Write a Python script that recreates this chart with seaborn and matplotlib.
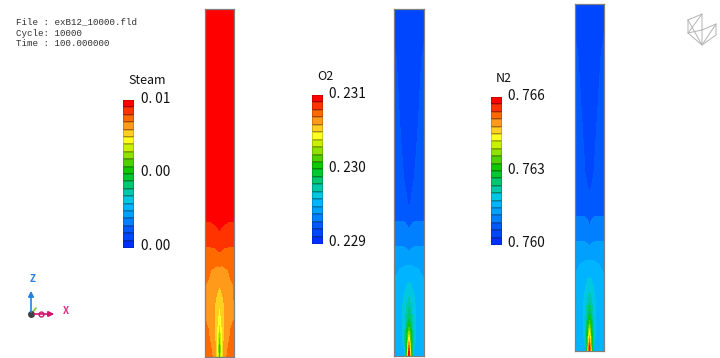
import numpy as np
import matplotlib
matplotlib.use('Agg')
import matplotlib.pyplot as plt
from matplotlib.colors import ListedColormap
import seaborn as sns

# colores de la escala, de abajo hacia arriba
level_colors = ['#0030ff', '#0046ff', '#0058ff', '#0080ff', '#00a0ff',
                '#00b4ff', '#00c8e0', '#00c8a8', '#00c870', '#00c830',
                '#10c800', '#50d000', '#90e000', '#c8f000', '#ffff20',
                '#ffd020', '#ff9a1a', '#ff6a00', '#ff3300', '#ff0000']

# alturas de las filas y posiciones desde el eje hasta la pared (mitad)
rows_y = [9, 60, 120, 180, 205, 222, 231, 244, 247, 252, 265, 270, 285, 300,
          320, 335, 345, 352, 357]
half_x = [0, 0.12, 0.3, 0.55, 0.8, 1]

steam_field = [
    [19, 19, 19, 19, 19, 19],
    [19, 19, 19, 19, 19, 19],
    [19, 19, 19, 19, 19, 19],
    [19, 19, 19, 19, 19, 19],
    [19, 19, 19, 19, 19, 19],
    [19, 18.9, 18.7, 18.5, 18.5, 18.5],
    [18.5, 18.2, 18, 18, 18, 18],
    [18, 18, 17.8, 17.7, 17.6, 17.6],
    [18, 17.9, 17.6, 17.5, 17.5, 17.5],
    [17.5, 17.3, 17, 17, 17, 17],
    [16.6, 16.55, 16.6, 16.8, 17, 17],
    [16.2, 16.2, 16.3, 16.45, 16.7, 17],
    [15.6, 15.7, 15.95, 16.2, 16.4, 16.52],
    [14.8, 15.1, 15.5, 16, 16.3, 16.5],
    [13.5, 14.4, 15.3, 16, 16.4, 16.5],
    [11, 13.5, 15.4, 16.2, 16.6, 16.6],
    [9, 13, 15.5, 16.4, 16.7, 16.7],
    [8, 13, 15.7, 16.5, 16.8, 16.8],
    [7, 14, 16, 16.6, 16.8, 16.8],
]

o2_field = [
    [1, 1, 1, 1, 1, 1],
    [1, 1, 1, 1.2, 1.45, 1.7],
    [1, 1, 1.1, 1.4, 1.7, 1.9],
    [1.1, 1.2, 1.45, 1.7, 1.9, 2],
    [1.45, 1.55, 1.8, 2, 2, 2],
    [2.2, 2.3, 2.45, 2.5, 2.5, 2.5],
    [2.5, 2.7, 3, 3, 3, 3],
    [3, 3, 3.2, 3.35, 3.4, 3.4],
    [3, 3.1, 3.4, 3.5, 3.5, 3.5],
    [3.5, 3.7, 4, 4, 4, 4],
    [4.4, 4.45, 4.4, 4.2, 4, 4],
    [4.7, 4.7, 4.65, 4.55, 4.4, 4.3],
    [5.6, 5.5, 5.2, 4.9, 4.7, 4.6],
    [6.6, 6.2, 5.7, 5.1, 4.8, 4.7],
    [8.5, 7.5, 6, 5.2, 4.8, 4.7],
    [12, 9.5, 6, 5.1, 4.7, 4.7],
    [16, 10, 5.8, 5, 4.7, 4.7],
    [18.5, 10, 5.5, 4.9, 4.7, 4.7],
    [19.5, 12, 5.2, 4.8, 4.7, 4.7],
]

n2_field = [
    [1, 1, 1, 1, 1, 1],
    [1, 1, 1, 1.25, 1.5, 1.75],
    [1.1, 1.1, 1.2, 1.5, 1.75, 1.9],
    [1.25, 1.3, 1.5, 1.8, 1.95, 2],
    [1.6, 1.7, 1.9, 2, 2, 2],
    [2.2, 2.3, 2.45, 2.5, 2.5, 2.5],
    [2.5, 2.7, 3, 3, 3, 3],
    [3, 3, 3.2, 3.35, 3.4, 3.4],
    [3, 3.1, 3.4, 3.5, 3.5, 3.5],
    [3.5, 3.7, 4, 4, 4, 4],
    [4.4, 4.45, 4.4, 4.2, 4, 4],
    [4.7, 4.7, 4.65, 4.55, 4.4, 4.3],
    [5.6, 5.5, 5.2, 4.9, 4.7, 4.6],
    [6.6, 6.2, 5.6, 5.1, 4.8, 4.7],
    [8.8, 7.6, 5.9, 5.2, 4.8, 4.7],
    [12.5, 9.5, 5.9, 5.1, 4.7, 4.7],
    [16.5, 10, 5.7, 5, 4.7, 4.7],
    [18.8, 10, 5.5, 4.9, 4.7, 4.7],
    [19.5, 12, 5.2, 4.8, 4.7, 4.7],
]

# nombre, etiquetas de la barra (arriba, medio, abajo)
bar_names = ['Steam', 'O2', 'N2']
steam_ticks = ['0. 01', '0. 00', '0. 00']
o2_ticks = ['0. 231', '0. 230', '0. 229']
n2_ticks = ['0. 766', '0. 763', '0. 760']
info_lines = ['File : exB12_10000.fld', 'Cycle: 10000', 'Time : 100.000000']

sns.set_theme(style='white')
plt.rcParams['font.family'] = ['Noto Sans CJK JP', 'DejaVu Sans']
cmap = ListedColormap(level_colors)

fig = plt.figure(figsize=(7.2, 3.58), dpi=100, facecolor='white')


def box(x0, y0, x1, y1):
    # caja en pixeles de la imagen
    return fig.add_axes([x0 / 720, 1 - y1 / 358, (x1 - x0) / 720, (y1 - y0) / 358])


def draw_field(field, rect):
    ax = box(*rect)
    half = np.array(field, dtype=float)
    full = np.hstack([half[:, :0:-1], half])
    xs = np.array(half_x[:0:-1]) * -1
    xs = np.concatenate([xs, half_x])
    ax.contourf(xs, rows_y, full, levels=np.arange(-0.5, 20.5, 1),
                cmap=cmap, vmin=-0.5, vmax=19.5)
    ax.set_xlim(-1, 1)
    ax.set_ylim(357, 9)
    ax.set_xticks([])
    ax.set_yticks([])
    for s in ax.spines.values():
        s.set_visible(True)
        s.set_color('#808080')
        s.set_linewidth(0.9)


def draw_bar(rect):
    ax = box(*rect)
    cells = np.arange(len(level_colors))[::-1].reshape(-1, 1)
    sns.heatmap(cells, ax=ax, cmap=cmap, cbar=False, vmin=-0.5, vmax=19.5,
                linewidths=0.35, linecolor=(0, 0, 0, 0.18), xticklabels=False,
                yticklabels=False)


draw_field(steam_field, (205, 9, 234, 357))
draw_field(o2_field, (394, 9, 424, 356))
draw_field(n2_field, (575, 4, 604, 351))

draw_bar((123, 100, 134, 248))
draw_bar((312, 95, 323, 244))
draw_bar((491, 97, 502, 245))

# capa de textos y adornos en pixeles
over = fig.add_axes([0, 0, 1, 1])
over.set_xlim(0, 720)
over.set_ylim(358, 0)
over.axis('off')
over.patch.set_alpha(0)

for name, x, y in zip(bar_names, [147, 325, 504], [81, 76, 78]):
    over.text(x, y, name, fontsize=9, ha='center', va='center', color='#101010')

for ticks, x, ys in [(steam_ticks, 141, [99, 172, 246]),
                     (o2_ticks, 329, [94, 168, 242]),
                     (n2_ticks, 508, [96, 170, 243])]:
    for lab, y in zip(ticks, ys):
        over.text(x, y, lab, fontsize=9.8, ha='left', va='center', color='#101010')

for line, y in zip(info_lines, [22, 33, 44]):
    over.text(16, y, line, fontsize=6.6, family='Liberation Mono', ha='left',
              va='center', color='#303030')

# triedro
over.annotate('', xy=(31, 288), xytext=(31, 315),
              arrowprops=dict(arrowstyle='-|>', color='#2a7fe0', lw=1.2, mutation_scale=8))
over.annotate('', xy=(57, 314), xytext=(31, 314),
              arrowprops=dict(arrowstyle='-|>', color='#d8106e', lw=1.2, mutation_scale=8))
over.plot([31, 36], [314, 308], color='#70d030', lw=1.2)
over.plot([31], [314], 'o', color='#404040', ms=4)
over.plot([41], [314], 'o', mfc='white', mec='#d8106e', ms=3.5, mew=1)
over.text(33, 279, 'Z', fontsize=7, color='#2a7fe0', ha='center', va='center', fontweight='bold')
over.text(66, 311, 'X', fontsize=7, color='#e0307e', ha='center', va='center', fontweight='bold')

# icono de alambre arriba a la derecha
for xs, ys in [([688, 702, 702, 688, 688], [20, 14, 30, 33, 20]),
               ([688, 702, 716, 716, 702], [33, 45, 35, 24, 30]),
               ([688, 702, 702], [20, 45, 30]), ([702, 716], [45, 24]),
               ([688, 702], [33, 14])]:
    over.plot(xs, ys, color='#b4b4b4', lw=0.7)

fig.savefig('out.png', dpi=100, facecolor='white')
